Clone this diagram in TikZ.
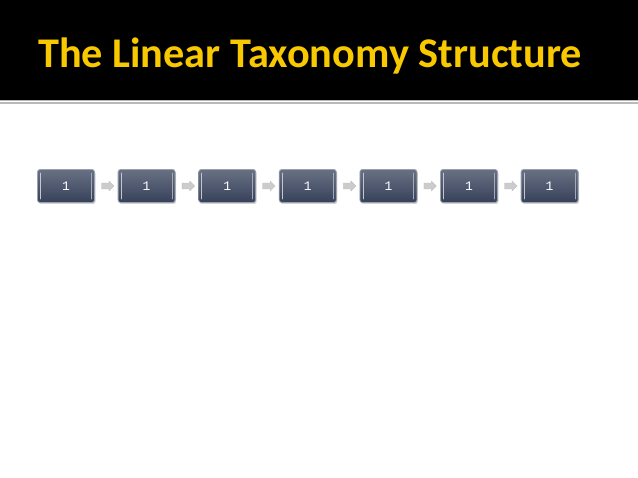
\documentclass[tikz,border=0pt]{standalone}
\usepackage{fontspec}
\setmainfont{Carlito}
\setmonofont{Liberation Mono}
\usetikzlibrary{positioning, calc, shapes.arrows, shadows}

\begin{document}
\begin{tikzpicture}[x=1pt,y=-1pt,
  stepbox/.style={rounded corners=2.5pt, minimum width=57pt, minimum height=33pt,
    top color=slate!75, bottom color=slate, draw=slate!50!white, line width=0.8pt,
    drop shadow={shadow xshift=1pt, shadow yshift=-1.5pt, opacity=0.35},
    text=white, font=\ttfamily\fontsize{13}{14}\selectfont},
  blockarrow/.style={single arrow, fill=gray!40, draw=gray!55, line width=0.3pt,
    minimum height=12.5pt, single arrow head extend=2pt, inner sep=2.8pt}]
  \definecolor{slate}{HTML}{36415A}
  \definecolor{titleyellow}{HTML}{F8C800}
  \useasboundingbox (0,0) rectangle (638,478);
  % title bar
  \fill[black] (0,0) rectangle (638,100);
  \fill[gray!55] (0,100) rectangle (638,104);
  \fill[white] (0,101.5) rectangle (638,102.3);
  \node[anchor=base west, inner sep=0pt, text=titleyellow,
    font=\fontsize{42.3}{50}\selectfont\bfseries] (title) at (38,68)
    {The Linear Taxonomy Structure};
  % boxes
  \node[stepbox] (b1) at (66,186) {1};
  \foreach \i [remember=\i as \j (initially 1)] in {2,...,7}{
    \node[stepbox, right=22.8pt of b\j] (b\i) {1};
    \node[blockarrow] (a\j) at ($(b\j.east)!0.5!(b\i.west)$) {};
  }
  % side highlights
  \foreach \i in {1,...,7}{
    \draw[white!70!slate, line width=1pt, line cap=round]
      ($(b\i.north west)+(3.5,4)$) -- ($(b\i.south west)+(3.5,-4)$);
    \draw[white!55!slate, line width=1pt, line cap=round]
      ($(b\i.north east)+(-3.5,4)$) -- ($(b\i.south east)+(-3.5,-4)$);
  }
\end{tikzpicture}
\end{document}
